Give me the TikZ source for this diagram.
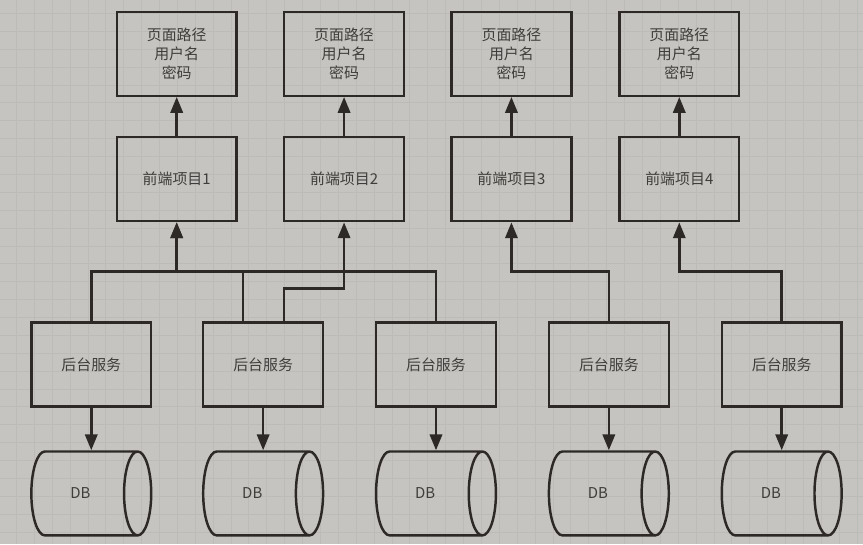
\documentclass[tikz,border=0pt]{standalone}
\usepackage{fontspec}
\newfontfamily\cjk{Noto Sans CJK SC}
\usepackage{tikz}
\usetikzlibrary{positioning,arrows.meta,calc,shapes.geometric}
\definecolor{paper}{RGB}{198,196,192}
\definecolor{gridln}{RGB}{189,187,183}
\definecolor{ink}{RGB}{44,41,39}
\definecolor{txt}{RGB}{64,62,60}
\tikzset{
  box/.style={draw=ink,line width=1.4pt,minimum width=2.4cm,minimum height=1.68cm,
    align=center,text=txt,font=\cjk\fontsize{8.5}{10.9}\selectfont},
  dbcyl/.style={cylinder,draw=ink,line width=1.4pt,shape aspect=1.2,anchor=shape center,
    minimum height=2.4cm,minimum width=1.68cm,text=txt,font=\cjk\fontsize{8.5}{10.9}\selectfont},
  link/.style={ink,line width=1.4pt,-{Triangle[width=7pt,length=9pt]}},
  wire/.style={ink,line width=1.4pt}
}

\begin{document}
\begin{tikzpicture}[x=0.02cm,y=-0.02cm]
    % paper with grid
    \fill[paper] (0,0) rectangle (863,544);
    \foreach \gx in {16,33.9,...,863} \draw[gridln,line width=0.4pt] (\gx,0) -- (\gx,544);
    \foreach \gy in {13,30.9,...,544} \draw[gridln,line width=0.4pt] (0,\gy) -- (863,\gy);
    \useasboundingbox (0,0) rectangle (863,544);
    % page info boxes
    \node[box] (pg1) at (176.5,53.5) {页面路径\\用户名\\密码};
    \node[box] (pg2) at (344,53.5)   {页面路径\\用户名\\密码};
    \node[box] (pg3) at (511.5,53.5) {页面路径\\用户名\\密码};
    \node[box] (pg4) at (679.5,53.5) {页面路径\\用户名\\密码};
    % front-end projects
    \node[box] (fe1) at (176.5,179) {前端项目1};
    \node[box] (fe2) at (344,179)   {前端项目2};
    \node[box] (fe3) at (511.5,179) {前端项目3};
    \node[box] (fe4) at (679.5,179) {前端项目4};
    % back-end services and their databases
    \node[box] (be1) at (91,364.5)  {后台服务};
    \node[box] (be2) at (263,364.5) {后台服务};
    \node[box] (be3) at (436,364.5) {后台服务};
    \node[box] (be4) at (609,364.5) {后台服务};
    \node[box] (be5) at (782,364.5) {后台服务};
    \node[dbcyl] (db1) at (91,493.5)  {DB};
    \node[dbcyl] (db2) at (263,493.5) {DB};
    \node[dbcyl] (db3) at (436,493.5) {DB};
    \node[dbcyl] (db4) at (609,493.5) {DB};
    \node[dbcyl] (db5) at (782,493.5) {DB};
    % front-end -> page info
    \draw[link] (fe1) -- (pg1);  \draw[link] (fe2) -- (pg2);
    \draw[link] (fe3) -- (pg3);  \draw[link] (fe4) -- (pg4);
    % service -> db
    \draw[link] (be1.south) -- (be1.south |- db1.north);
    \draw[link] (be2.south) -- (be2.south |- db2.north);
    \draw[link] (be3.south) -- (be3.south |- db3.north);
    \draw[link] (be4.south) -- (be4.south |- db4.north);
    \draw[link] (be5.south) -- (be5.south |- db5.north);
    % services -> front-ends (bus at y=272)
    \draw[link] (be1.north) -- ++(0,-50) -| (fe1.south);
    \draw[link] (be3.north) -- ++(0,-50) -| (fe1.south);
    \draw[wire] ($(be2.north)+(-20,0)$) -- ++(0,-50);
    \draw[link] ($(be2.north)+(21,0)$) -- ++(0,-33) -| (fe2.south);
    \draw[link] (be4.north) -- ++(0,-50) -| (fe3.south);
    \draw[link] (be5.north) -- ++(0,-50) -| (fe4.south);
  \end{tikzpicture}
\end{document}
